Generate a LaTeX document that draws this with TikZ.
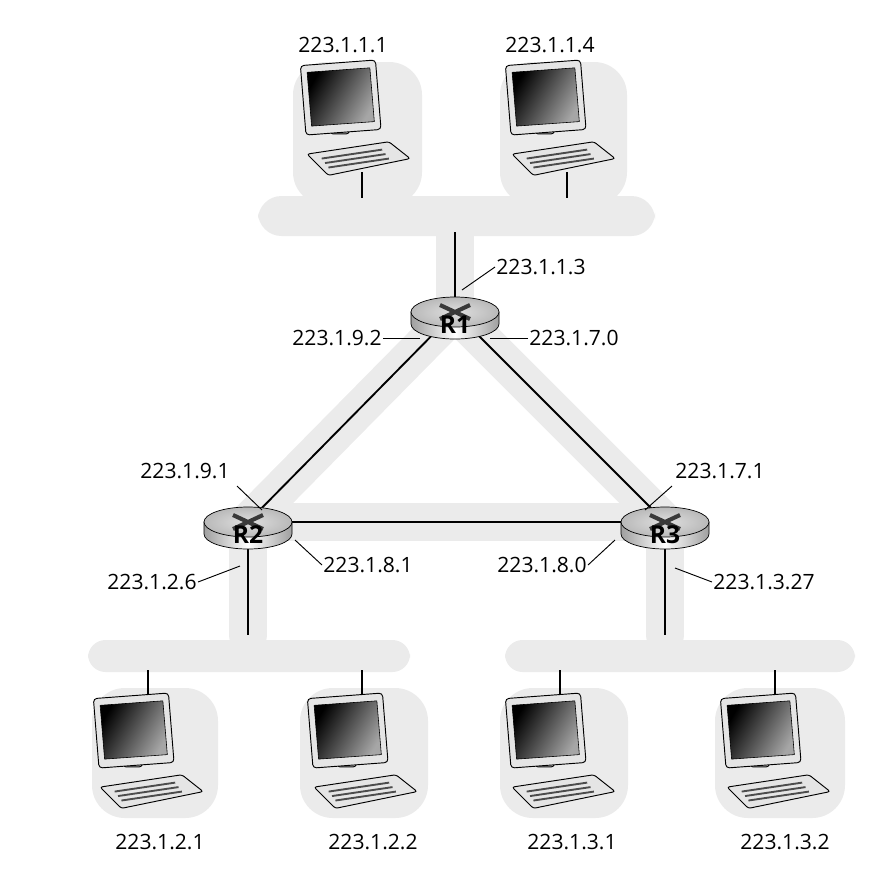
\documentclass[tikz,border=0pt]{standalone}
\usepackage{fontspec}
\setmainfont{Open Sans}
\usetikzlibrary{shapes.geometric}
\definecolor{halogray}{gray}{0.92}
\tikzset{
 lbl/.style={font=\fontsize{18}{19}\selectfont, inner sep=1pt},
 lead/.style={line width=0.8pt},
 link/.style={line width=1.6pt},
 haloline/.style={line width=32, draw=halogray, line cap=round},
 halofill/.style={fill=halogray},
 pics/computer/.style={code={
   \begin{scope}[scale=1.12]
   \draw[line width=0.8pt, fill=gray!25, rounded corners=2] (-28,-34) -- (-12,-34) -- (-10,-42) -- (-26,-42) -- cycle;
   \draw[line width=0.8pt, fill=gray!20, rounded corners=2] (-49,-16) -- (24,-27) -- (43,-12) -- (-30,3) -- cycle;
   \foreach \k in {0,1,2}{\draw[line width=1.6pt,gray!60!black] (-36+3*\k,-12+4*\k) -- (18+3*\k,-20+4*\k);}
   \draw[line width=0.8pt, fill=gray!20, rounded corners=3] (-55,-95) -- (12,-100) -- (17,-38) -- (-50,-33) -- cycle;
   \shade[left color=black, right color=gray!70, shading angle=60] (-49,-89) -- (7,-93) -- (11,-45) -- (-45,-41) -- cycle;
   \draw[line width=0.5pt] (-49,-89) -- (7,-93) -- (11,-45) -- (-45,-41) -- cycle;
   \end{scope}
 }},
 pics/router/.style={code={
   \shade[left color=gray!75, right color=gray!75, middle color=white, draw=black, line width=0.6pt]
     (-44,0) -- (-44,12) arc[start angle=180,end angle=0,x radius=44,y radius=15] -- (44,0) -- cycle;
   \shade[inner color=gray!25, outer color=gray!55, draw=black, line width=0.6pt] (0,0) ellipse[x radius=44,y radius=15];
   \draw[gray!45!black, line width=3.5pt] (-15,-7) -- (15,7) (-15,7) -- (15,-7);
   \node[font=\fontsize{21}{21}\selectfont\bfseries] at (0,13) {#1};
 }},
}
\begin{document}
\begin{tikzpicture}[x=0.03cm,y=-0.03cm]
\path[use as bounding box] (0,0) rectangle (894,882);
\coordinate (R1) at (455,312);
\coordinate (R2) at (248,522);
\coordinate (R3) at (665,522);
\coordinate (Ltop) at (455,232);
\coordinate (L2) at (248,635);
\coordinate (L3) at (665,635);
% halos
\fill[halofill, rounded corners=28] (293,62) rectangle (422,205);
\fill[halofill, rounded corners=28] (500,62) rectangle (627,205);
\fill[halofill, rounded corners=20] (258,196) rectangle (655,236);
\fill[halofill, rounded corners=28] (92,688) rectangle (218,818);
\fill[halofill, rounded corners=28] (300,688) rectangle (428,818);
\fill[halofill, rounded corners=28] (500,688) rectangle (628,818);
\fill[halofill, rounded corners=28] (715,688) rectangle (845,818);
\fill[halofill, rounded corners=15] (88,640) rectangle (410,672);
\fill[halofill, rounded corners=15] (505,640) rectangle (855,672);
\draw[haloline] (R1) -- (Ltop);
\draw[haloline] (R1) -- (R2);
\draw[haloline] (R1) -- (R3);
\draw[haloline] (R2) -- (R3);
\draw[haloline] (R2) -- (L2);
\draw[haloline] (R3) -- (L3);
% links
\draw[link] (R1) -- (Ltop);
\draw[link] (R1) -- (R2);
\draw[link] (R1) -- (R3);
\draw[link] (R2) -- (R3);
\draw[link] (R2) -- (L2);
\draw[link] (R3) -- (L3);
% computer stubs
\foreach \x in {362,567}{\draw[line width=1.2pt] (\x,172) -- (\x,198);}
\foreach \x in {148,362,560,775}{\draw[line width=1.2pt] (\x,670) -- (\x,705);}
% computers
\pic at (362,172) {computer};
\pic at (567,172) {computer};
\pic at (155,805) {computer};
\pic at (369,805) {computer};
\pic at (567,805) {computer};
\pic at (782,805) {computer};
% routers
\pic at (R1) {router=R1};
\pic at (R2) {router=R2};
\pic at (R3) {router=R3};
% labels
\node[lbl] (t1) at (343,45) {223.1.1.1};
\node[lbl] (t4) at (550,45) {223.1.1.4};
\node[lbl, anchor=west] (a113) at (495,267) {223.1.1.3};
\node[lbl, anchor=east] (a192) at (383,338) {223.1.9.2};
\node[lbl, anchor=west] (a170) at (528,338) {223.1.7.0};
\node[lbl] (a191) at (185,471) {223.1.9.1};
\node[lbl] (a171) at (720,471) {223.1.7.1};
\node[lbl, anchor=west] (a181) at (322,565) {223.1.8.1};
\node[lbl, anchor=east] (a180) at (588,565) {223.1.8.0};
\node[lbl, anchor=east] (a126) at (198,582) {223.1.2.6};
\node[lbl, anchor=west] (a1327) at (712,582) {223.1.3.27};
\node[lbl] (b1) at (160,842) {223.1.2.1};
\node[lbl] (b2) at (373,842) {223.1.2.2};
\node[lbl] (b3) at (572,842) {223.1.3.1};
\node[lbl] (b4) at (785,842) {223.1.3.2};
% leaders
\coordinate (p1) at (462,290);
\draw[lead] (a113.west) -- (p1);
\coordinate (p2) at (420,338);
\draw[lead] (a192.east) -- (p2);
\coordinate (p3) at (490,338);
\draw[lead] (a170.west) -- (p3);
\coordinate (p4) at (262,510);
\draw[lead] (237,486) -- (p4);
\coordinate (p5) at (645,510);
\draw[lead] (672,486) -- (p5);
\coordinate (p6) at (295,540);
\draw[lead] (a181.west) -- (p6);
\coordinate (p7) at (615,540);
\draw[lead] (a180.east) -- (p7);
\coordinate (p8) at (240,566);
\draw[lead] (a126.east) -- (p8);
\coordinate (p9) at (675,568);
\draw[lead] (a1327.west) -- (p9);
\end{tikzpicture}
\end{document}
